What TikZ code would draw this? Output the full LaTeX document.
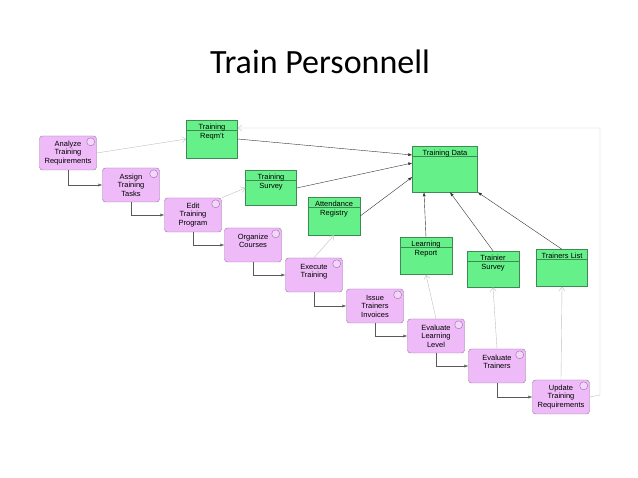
\documentclass[tikz,border=0pt]{standalone}
\usepackage{fontspec}
\setmainfont{Liberation Sans}
\newfontfamily\titlefont{Carlito}
\usetikzlibrary{arrows.meta,calc}
\definecolor{pfill}{HTML}{EEBBF8}
\definecolor{pdraw}{HTML}{9A6FA8}
\definecolor{gfill}{HTML}{66F08A}
\definecolor{gdraw}{HTML}{3E8A55}
\begin{document}
\begin{tikzpicture}[x=1pt,y=-1pt,
  proc/.style={draw=pdraw,fill=pfill,rounded corners=3pt,minimum width=57pt,minimum height=34pt,align=center,font=\fontsize{7.5}{8.5}\selectfont,inner sep=1pt},
  data/.style={draw=gdraw,fill=gfill,minimum width=52pt,minimum height=37pt,inner sep=0pt},
  dlab/.style={font=\fontsize{7.5}{9}\selectfont,align=center,anchor=north},
  seq/.style={draw=gray!70!black,-{Latex[length=4pt,width=3pt]}},
  io/.style={draw=gray!50,-{Straight Barb[length=4pt,width=6pt]}},
  agg/.style={draw=gray!40!black,-{Latex[length=4pt,width=3pt]}}]
\useasboundingbox (0,0) rectangle (638,478);
\node[font=\titlefont\fontsize{34}{38}\selectfont] (title) at (320,62) {Train Personnell};
% process boxes
\foreach \n/\x/\y/\t in {p1/68/153/{Analyze\\Training\\Requirements},p2/131/185/{Assign\\Training\\Tasks},p3/193/215/{Edit\\Training\\Program},p4/253/245/{Organize\\Courses\\ },p5/314/275/{Execute\\Training\\ },p6/375/306/{Issue\\Trainers\\Invoices},p7/436/336/{Evaluate\\Learning\\Level},p8/497/366/{Evaluate\\Trainers\\ },p9/561/397/{Update\\Training\\Requirements}}{
  \node[proc] (\n) at (\x,\y) {\t};
  \draw[pdraw,fill=pfill!60] ($(\n.north east)+(-6,6)$) circle (4pt);
}
% data boxes
\foreach \n/\x/\y/\w/\h/\t in {d1/212/139/51/38/{Training\\Reqm't},d2/271/188/51/35/{Training\\Survey},d3/334/216/52/38/{Attendance\\Registry},d4/445/169/65/46/{Training Data},d5/426/256/52/37/{Learning\\Report},d6/493/269/52/36/{Trainier\\Survey},d7/562/268/51/37/{Trainers List}}{
  \node[data,minimum width=\w pt,minimum height=\h pt] (\n) at (\x,\y) {};
  \draw[gdraw] ($(\n.north west)+(0,10)$) -- ($(\n.north east)+(0,10)$);
  \node[dlab] at ($(\n.north)+(0,0.5)$) {\t};
}
% sequence flow
\draw[seq] (p1.south) |- (p2.west);
\draw[seq] (p2.south) |- (p3.west);
\draw[seq] (p3.south) |- (p4.west);
\draw[seq] (p4.south) |- (p5.west);
\draw[seq] (p5.south) |- (p6.west);
\draw[seq] (p6.south) |- (p7.west);
\draw[seq] (p7.south) |- (p8.west);
\draw[seq] (p8.south) |- (p9.west);
% outputs
\draw[io] (p1.east) -- (d1.west);
\draw[io] (p3.north east) -- (d2.west);
\draw[io] (p5.north) -- (d3.south);
\draw[io] (p7.north) -- (d5.south);
\draw[io] (p8.north) -- (d6.south);
\draw[io] (p9.north) -- (d7.south);
\coordinate (c1) at (600,395);
\coordinate (c2) at (600,128);
\draw[io] (p9.east) -- (c1) -- (c2) -- (d1.north east |- c2);
% aggregation
\draw[agg] (d1.east) -- ($(d4.west)+(0,-14)$);
\draw[agg] (d2.east) -- ($(d4.west)+(0,-6)$);
\draw[agg] (d3.east) -- ($(d4.west)+(0,8)$);
\draw[agg] (d5.north) -- ($(d4.south)+(-21,0)$);
\draw[agg] (d6.north) -- ($(d4.south)+(5,0)$);
\draw[agg] (d7.north) -- (d4.south east);
\end{tikzpicture}
\end{document}
